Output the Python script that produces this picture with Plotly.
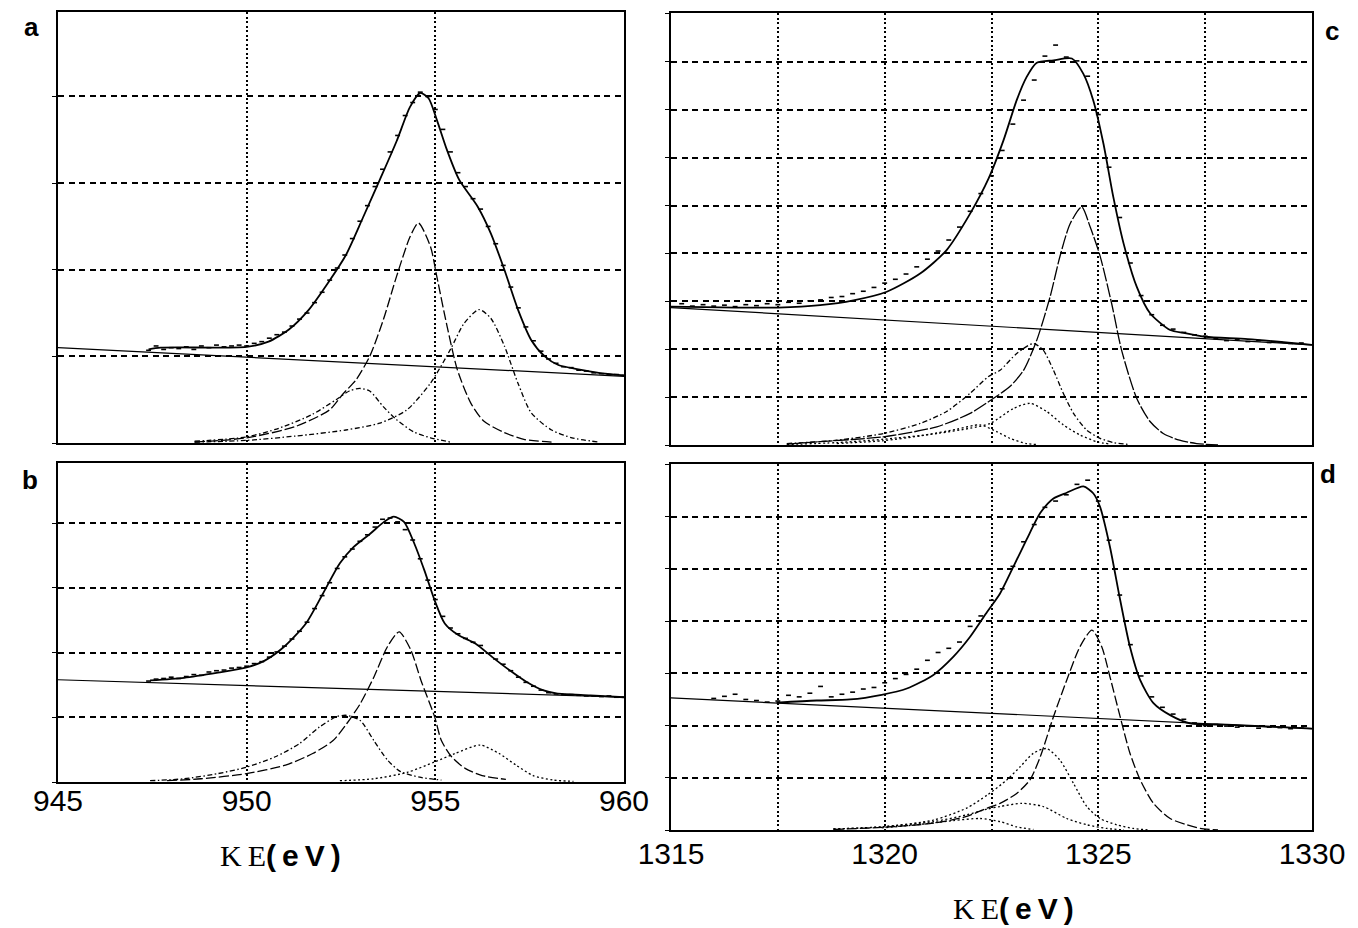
import plotly.graph_objects as go

# ================= panel a : 945-960 eV =================
A_DATA_X = [947.4, 947.6, 947.8, 948.0, 948.2, 948.4, 948.6, 948.8, 949.0, 949.2, 949.4, 949.6,
            949.8, 950.0, 950.2, 950.4, 950.6, 950.8, 951.0, 951.2, 951.4, 951.6, 951.8, 952.0,
            952.2, 952.4, 952.6, 952.8, 953.0, 953.2, 953.4, 953.6, 953.8, 954.0, 954.2, 954.4,
            954.6, 954.8, 955.0, 955.2, 955.4, 955.6, 955.8, 956.0, 956.2, 956.4, 956.6, 956.8,
            957.0, 957.2, 957.4, 957.6, 957.8, 958.0, 958.2, 958.4, 958.6, 958.8, 959.0, 959.2,
            959.4, 959.6, 959.8, 960.0]
A_DATA_Y = [1.07, 1.12, 1.08, 1.10, 1.09, 1.11, 1.08, 1.12, 1.10, 1.13, 1.11, 1.12,
            1.13, 1.12, 1.15, 1.17, 1.21, 1.25, 1.28, 1.35, 1.43, 1.50, 1.62, 1.74,
            1.88, 2.02, 2.17, 2.36, 2.56, 2.74, 2.96, 3.16, 3.36, 3.55, 3.78, 3.93,
            4.05, 4.00, 3.85, 3.62, 3.36, 3.12, 2.96, 2.82, 2.70, 2.50, 2.30, 2.05,
            1.80, 1.56, 1.34, 1.18, 1.06, 0.97, 0.92, 0.88, 0.87, 0.84, 0.83, 0.81,
            0.80, 0.79, 0.79, 0.78]
A_FIT_X = [947.4, 947.72, 950.0, 950.58, 951.12, 951.65, 952.19, 952.63, 953.08, 953.53, 953.97,
           954.33, 954.60, 954.82, 955.04, 955.31, 955.63, 956.12, 956.47, 956.83, 957.19,
           957.54, 957.90, 958.26, 958.79, 959.33, 960.0]
A_FIT_Y = [1.08, 1.10, 1.11, 1.17, 1.31, 1.54, 1.87, 2.17, 2.60, 3.04, 3.48,
           3.88, 4.04, 3.98, 3.73, 3.38, 3.04, 2.73, 2.42, 2.00, 1.54,
           1.19, 1.00, 0.90, 0.85, 0.81, 0.78]
A_BASE_X = [945.0, 960.0]
A_BASE_Y = [1.10, 0.77]
A_P1_X = [948.62, 950.0, 951.29, 952.19, 952.54, 952.90, 953.26, 953.62, 953.97, 954.33, 954.55,
          954.87, 955.04, 955.31, 955.58, 955.94, 956.29, 956.83, 957.37, 958.08]
A_P1_Y = [0.01, 0.06, 0.19, 0.38, 0.56, 0.73, 1.00, 1.42, 1.92, 2.38, 2.54,
          2.27, 1.92, 1.35, 0.85, 0.46, 0.25, 0.12, 0.04, 0.01]
A_P2_X = [948.62, 950.0, 950.85, 951.74, 952.37, 952.72, 952.99, 953.26, 953.62, 953.97, 954.42,
          954.87, 955.40]
A_P2_Y = [0.02, 0.07, 0.17, 0.33, 0.50, 0.60, 0.63, 0.60, 0.42, 0.27, 0.13, 0.06, 0.01]
A_P3_X = [948.62, 950.0, 951.29, 952.63, 953.53, 954.24, 954.87, 955.40, 955.76, 956.16, 956.47,
          956.83, 957.19, 957.54, 958.08, 958.62, 959.33]
A_P3_Y = [0.01, 0.03, 0.08, 0.15, 0.23, 0.38, 0.69, 1.08, 1.38, 1.54, 1.44,
          1.12, 0.69, 0.35, 0.15, 0.06, 0.01]

# ================= panel b : 945-960 eV =================
B_DATA_X = A_DATA_X
B_DATA_Y = [1.56, 1.59, 1.60, 1.62, 1.60, 1.63, 1.66, 1.65, 1.70, 1.72, 1.73, 1.76,
            1.77, 1.79, 1.83, 1.86, 1.93, 2.01, 2.10, 2.21, 2.33, 2.47, 2.68, 2.88,
            3.08, 3.30, 3.48, 3.60, 3.72, 3.82, 3.94, 4.06, 4.08, 4.02, 3.90, 3.74,
            3.45, 3.12, 2.82, 2.56, 2.38, 2.29, 2.22, 2.16, 2.11, 1.99, 1.90, 1.82,
            1.72, 1.62, 1.54, 1.48, 1.42, 1.38, 1.36, 1.35, 1.35, 1.34, 1.33, 1.33,
            1.32, 1.33, 1.31, 1.31]
B_FIT_X = [947.44, 948.34, 949.24, 950.0, 950.49, 951.03, 951.57, 952.02, 952.47, 952.83, 953.28,
           953.64, 953.90, 954.17, 954.44, 954.71, 954.98, 955.25, 955.61, 956.06, 956.51,
           956.96, 957.41, 957.85, 958.21, 959.11, 960.0]
B_FIT_Y = [1.57, 1.61, 1.69, 1.77, 1.88, 2.11, 2.45, 2.91, 3.38, 3.63, 3.84,
           4.02, 4.10, 4.02, 3.69, 3.27, 2.81, 2.45, 2.27, 2.14, 1.93,
           1.73, 1.55, 1.42, 1.37, 1.34, 1.31]
B_BASE_X = [945.0, 960.0]
B_BASE_Y = [1.58, 1.31]
B_P1_X = [947.89, 948.79, 950.0, 951.03, 951.75, 952.29, 952.65, 953.01, 953.37, 953.73, 954.04,
          954.35, 954.62, 954.98, 955.16, 955.43, 955.79, 956.24, 956.87]
B_P1_Y = [0.02, 0.05, 0.13, 0.26, 0.44, 0.64, 0.90, 1.21, 1.62, 2.09, 2.32,
          2.04, 1.57, 1.01, 0.64, 0.39, 0.21, 0.10, 0.04]
B_P2_X = [947.44, 948.34, 949.24, 950.0, 950.76, 951.39, 951.93, 952.38, 952.65, 953.01, 953.37,
          953.73, 954.08, 954.62, 955.16]
B_P2_Y = [0.02, 0.05, 0.13, 0.23, 0.39, 0.59, 0.85, 1.01, 1.03, 0.95, 0.64,
          0.34, 0.16, 0.07, 0.03]
B_P3_X = [952.47, 953.37, 954.26, 954.98, 955.52, 956.19, 956.69, 957.14, 957.59, 958.12, 958.66]
B_P3_Y = [0.02, 0.05, 0.15, 0.31, 0.44, 0.57, 0.44, 0.26, 0.10, 0.03, 0.01]

# ================= panel c : 1315-1330 eV =================
C_DATA_X = [1315.25, 1315.5, 1315.75, 1316.0, 1316.25, 1316.5, 1316.75, 1317.0, 1317.25, 1317.5,
            1317.75, 1318.0, 1318.25, 1318.5, 1318.75, 1319.0, 1319.25, 1319.5, 1319.75, 1320.0,
            1320.25, 1320.5, 1320.75, 1321.0, 1321.25, 1321.5, 1321.75, 1322.0, 1322.25, 1322.5,
            1322.75, 1323.0, 1323.25, 1323.5, 1323.75, 1324.0, 1324.25, 1324.5, 1324.75, 1325.0,
            1325.25, 1325.5, 1325.75, 1326.0, 1326.25, 1326.5, 1326.75, 1327.0, 1327.25, 1327.5,
            1327.75, 1328.0, 1328.25, 1328.5, 1328.75, 1329.0, 1329.25, 1329.5, 1329.75]
C_DATA_Y = [2.95, 2.90, 2.93, 2.90, 2.92, 2.89, 2.93, 2.91, 2.95, 2.93,
            2.98, 2.96, 3.01, 3.03, 3.08, 3.10, 3.16, 3.21, 3.29, 3.38,
            3.46, 3.57, 3.72, 3.88, 4.05, 4.28, 4.55, 4.88, 5.25, 5.62,
            6.15, 6.70, 7.20, 7.62, 8.12, 8.35, 8.10, 8.02, 7.70, 6.90,
            5.80, 4.75, 3.80, 3.12, 2.72, 2.50, 2.42, 2.35, 2.30, 2.27,
            2.22, 2.18, 2.21, 2.16, 2.18, 2.14, 2.15, 2.12, 2.13]
C_FIT_X = [1315.0, 1316.54, 1317.51, 1318.49, 1319.27, 1320.05, 1320.83, 1321.45, 1322.0, 1322.43,
           1322.78, 1323.09, 1323.32, 1323.56, 1323.95, 1324.38, 1324.65, 1324.88, 1325.12,
           1325.35, 1325.59, 1325.90, 1326.21, 1326.68, 1327.0, 1327.5, 1328.5, 1330.0]
C_FIT_Y = [2.89, 2.87, 2.87, 2.92, 3.02, 3.20, 3.58, 4.07, 4.83, 5.56,
           6.36, 7.20, 7.68, 7.98, 8.03, 8.07, 7.75, 7.20, 6.29,
           5.18, 4.21, 3.30, 2.75, 2.40, 2.34, 2.26, 2.21, 2.09]
C_BASE_X = [1315.0, 1330.0]
C_BASE_Y = [2.87, 2.09]
C_P1_X = [1317.71, 1318.49, 1319.97, 1321.22, 1322.0, 1322.54, 1322.93, 1323.25, 1323.56, 1323.87,
          1324.10, 1324.34, 1324.61, 1324.81, 1325.04, 1325.31, 1325.55, 1325.90, 1326.21, 1326.52,
          1326.9, 1327.3, 1327.8]
C_P1_Y = [0.02, 0.07, 0.17, 0.38, 0.66, 0.97, 1.22, 1.56, 2.19, 3.09,
          3.93, 4.62, 4.97, 4.55, 3.95, 2.96, 1.96, 0.97, 0.49, 0.24,
          0.10, 0.03, 0.0]
C_P2_X = [1317.71, 1318.88, 1319.97, 1320.83, 1321.45, 1322.0, 1322.43, 1322.70, 1323.09, 1323.48,
          1323.71, 1323.95, 1324.18, 1324.42, 1324.73, 1325.04, 1325.35, 1325.74]
C_P2_Y = [0.03, 0.10, 0.24, 0.45, 0.70, 1.08, 1.43, 1.56, 1.91, 2.12,
          1.98, 1.56, 1.08, 0.66, 0.31, 0.14, 0.05, 0.01]
C_P3_X = [1317.71, 1318.88, 1319.97, 1321.22, 1322.0, 1322.47, 1323.01, 1323.40, 1323.79, 1324.18,
          1324.57, 1324.96, 1325.27]
C_P3_Y = [0.01, 0.05, 0.12, 0.24, 0.35, 0.45, 0.76, 0.87, 0.70, 0.42, 0.21, 0.07, 0.02]
C_P4_X = [1318.88, 1319.97, 1320.83, 1321.69, 1322.23, 1322.62, 1322.93, 1323.32, 1323.56]
C_P4_Y = [0.03, 0.09, 0.19, 0.33, 0.42, 0.28, 0.14, 0.03, 0.01]

# ================= panel d : 1315-1330 eV =================
D_DATA_X = [1316.0, 1316.25, 1316.5, 1316.75, 1317.0, 1317.25, 1317.5, 1317.75, 1318.0, 1318.25,
            1318.5, 1318.75, 1319.0, 1319.25, 1319.5, 1319.75, 1320.0, 1320.25, 1320.5, 1320.75,
            1321.0, 1321.25, 1321.5, 1321.75, 1322.0, 1322.25, 1322.5, 1322.75, 1323.0, 1323.25,
            1323.5, 1323.75, 1324.0, 1324.25, 1324.5, 1324.75, 1325.0, 1325.25, 1325.5, 1325.75,
            1326.0, 1326.25, 1326.5, 1326.75, 1327.0, 1327.25, 1327.5, 1327.75, 1328.0, 1328.25,
            1328.5, 1328.75, 1329.0, 1329.25, 1329.5, 1329.75]
D_DATA_Y = [2.52, 2.56, 2.60, 2.50, 2.48, 2.45, 2.47, 2.58, 2.55, 2.62,
            2.75, 2.55, 2.60, 2.64, 2.70, 2.73, 2.82, 2.90, 2.98, 3.08,
            3.25, 3.40, 3.48, 3.60, 3.90, 4.10, 4.40, 4.62, 5.05, 5.52,
            5.85, 6.18, 6.30, 6.42, 6.62, 6.70, 6.30, 5.55, 4.50, 3.55,
            2.95, 2.55, 2.35, 2.22, 2.12, 2.05, 2.00, 2.02, 1.99, 1.97,
            1.99, 1.95, 1.97, 1.96, 1.94, 1.95]
D_FIT_X = [1317.47, 1318.41, 1319.19, 1319.93, 1320.52, 1321.14, 1321.61, 1322.00, 1322.40, 1322.70,
           1323.01, 1323.32, 1323.64, 1323.95, 1324.26, 1324.65, 1324.88, 1325.04, 1325.27, 1325.51,
           1325.74, 1325.98, 1326.29, 1326.68, 1327.15, 1328.0, 1330.0]
D_FIT_Y = [2.44, 2.48, 2.50, 2.59, 2.71, 2.97, 3.32, 3.70, 4.18, 4.53,
           5.04, 5.56, 6.07, 6.35, 6.46, 6.58, 6.45, 6.19, 5.43, 4.41,
           3.51, 2.87, 2.43, 2.20, 2.04, 2.02, 1.94]
D_BASE_X = [1315.0, 1330.0]
D_BASE_Y = [2.53, 1.94]
D_P1_X = [1318.80, 1319.93, 1321.14, 1321.92, 1322.40, 1322.70, 1323.09, 1323.40, 1323.64, 1323.95,
          1324.26, 1324.57, 1324.85, 1325.08, 1325.27, 1325.51, 1325.74, 1325.98, 1326.29, 1326.68,
          1327.07, 1327.38, 1327.8]
D_P1_Y = [0.01, 0.05, 0.13, 0.26, 0.42, 0.51, 0.70, 0.96, 1.40, 2.17,
          2.87, 3.51, 3.83, 3.51, 2.94, 2.17, 1.47, 0.96, 0.51, 0.22,
          0.10, 0.03, 0.0]
D_P2_X = [1318.80, 1319.93, 1321.14, 1321.92, 1322.40, 1322.86, 1323.17, 1323.48, 1323.79, 1324.10,
          1324.42, 1324.73, 1325.04, 1325.43, 1325.82, 1326.2]
D_P2_Y = [0.02, 0.06, 0.19, 0.42, 0.67, 0.96, 1.21, 1.47, 1.56, 1.34,
          0.89, 0.45, 0.22, 0.10, 0.03, 0.0]
D_P3_X = [1318.80, 1319.93, 1321.14, 1321.92, 1322.40, 1322.70, 1323.21, 1323.71, 1324.26, 1324.73,
          1325.20, 1325.6]
D_P3_Y = [0.02, 0.06, 0.16, 0.29, 0.40, 0.45, 0.51, 0.45, 0.22, 0.10, 0.03, 0.0]
D_P4_X = [1319.93, 1320.75, 1321.61, 1322.23, 1322.70, 1323.09, 1323.48]
D_P4_Y = [0.04, 0.10, 0.18, 0.22, 0.16, 0.06, 0.01]

# ---------------- axis ticks / labels ----------------
LEFT_TICKS = [945, 950, 955, 960]
LEFT_TICK_TEXT = ["945", "950", "955", "960"]
RIGHT_TICKS = [1315, 1317.5, 1320, 1322.5, 1325, 1327.5, 1330]
RIGHT_TICK_TEXT = ["1315", "", "1320", "", "1325", "", "1330"]
X_TITLE = "KE"
X_UNIT = "(eV)"
PANEL_LETTERS = ["a", "b", "c", "d"]

W, H = 1358, 928
DASH_MAIN = "10px,3px"
DASH_DD = "5px,2.5px,1.5px,2.5px"
DASH_DOT = "2px,2.5px"

fig = go.Figure()


def add_panel(n, dx, dy, fx, fy, bx, by, comps):
    xa = "x" if n == 1 else f"x{n}"
    ya = "y" if n == 1 else f"y{n}"
    fig.add_trace(go.Scatter(x=bx, y=by, mode="lines", xaxis=xa, yaxis=ya,
                             line=dict(color="black", width=1.2), hoverinfo="skip"))
    for cx, cy, dash in comps:
        fig.add_trace(go.Scatter(x=cx, y=cy, mode="lines", xaxis=xa, yaxis=ya,
                                 line=dict(color="black", width=1.3, dash=dash,
                                           shape="spline", smoothing=0.7)))
    fig.add_trace(go.Scatter(x=fx, y=fy, mode="lines", xaxis=xa, yaxis=ya,
                             line=dict(color="black", width=1.8, shape="spline", smoothing=0.7)))
    fig.add_trace(go.Scatter(x=dx, y=dy, mode="markers", xaxis=xa, yaxis=ya,
                             marker=dict(symbol="line-ew", size=3.5,
                                         line=dict(color="black", width=1.6))))


add_panel(1, A_DATA_X, A_DATA_Y, A_FIT_X, A_FIT_Y, A_BASE_X, A_BASE_Y,
          [(A_P2_X, A_P2_Y, DASH_DD), (A_P3_X, A_P3_Y, DASH_DD), (A_P1_X, A_P1_Y, DASH_MAIN)])
add_panel(2, B_DATA_X, B_DATA_Y, B_FIT_X, B_FIT_Y, B_BASE_X, B_BASE_Y,
          [(B_P2_X, B_P2_Y, DASH_DD), (B_P3_X, B_P3_Y, DASH_DOT), (B_P1_X, B_P1_Y, DASH_MAIN)])
add_panel(3, C_DATA_X, C_DATA_Y, C_FIT_X, C_FIT_Y, C_BASE_X, C_BASE_Y,
          [(C_P4_X, C_P4_Y, DASH_DOT), (C_P3_X, C_P3_Y, DASH_DOT), (C_P2_X, C_P2_Y, DASH_DD),
           (C_P1_X, C_P1_Y, "14px,2px")])
add_panel(4, D_DATA_X, D_DATA_Y, D_FIT_X, D_FIT_Y, D_BASE_X, D_BASE_Y,
          [(D_P4_X, D_P4_Y, DASH_DOT), (D_P3_X, D_P3_Y, DASH_DOT), (D_P2_X, D_P2_Y, DASH_DOT),
           (D_P1_X, D_P1_Y, DASH_MAIN)])


def px_x(a, b):
    return [a / W, b / W]


def px_y(top, bottom):
    return [1 - bottom / H, 1 - top / H]


TICK_FONT = dict(family="Liberation Sans, Arial, sans-serif", size=30, color="black")
common_x = dict(showline=True, mirror=True, linecolor="black", linewidth=2, zeroline=False,
                showgrid=True, gridcolor="black", gridwidth=1.5, griddash="2px,2.5px",
                tickmode="array", ticks="", tickfont=TICK_FONT, automargin=False)
common_y = dict(showline=True, mirror=True, linecolor="black", linewidth=2, zeroline=False,
                showgrid=True, gridcolor="black", gridwidth=1.6, griddash="6px,4.5px",
                dtick=1, tick0=0, showticklabels=False, ticks="outside", ticklen=4,
                tickcolor="black", tickwidth=1.2, automargin=False)

fig.update_layout(
    width=W, height=H, margin=dict(l=0, r=0, t=0, b=0, autoexpand=False),
    paper_bgcolor="white", plot_bgcolor="white", showlegend=False,
    xaxis=dict(common_x, domain=px_x(58, 624), range=[945, 960], anchor="y",
               tickvals=LEFT_TICKS, showticklabels=False),
    yaxis=dict(common_y, domain=px_y(12, 443), range=[0, 4.975], anchor="x"),
    xaxis2=dict(common_x, domain=px_x(58, 624), range=[945, 960], anchor="y2",
                tickvals=LEFT_TICKS, ticktext=LEFT_TICK_TEXT, showticklabels=True,
                ticklabelstandoff=-9),
    yaxis2=dict(common_y, domain=px_y(463, 782), range=[0, 4.93], anchor="x2"),
    xaxis3=dict(common_x, domain=px_x(671, 1312), range=[1315, 1330], anchor="y3",
                tickvals=RIGHT_TICKS, showticklabels=False),
    yaxis3=dict(common_y, domain=px_y(13, 445), range=[0, 9.02], anchor="x3"),
    xaxis4=dict(common_x, domain=px_x(671, 1312), range=[1315, 1330], anchor="y4",
                tickvals=RIGHT_TICKS, ticktext=RIGHT_TICK_TEXT, showticklabels=True,
                ticklabelstandoff=-4),
    yaxis4=dict(common_y, domain=px_y(464, 830), range=[0, 7.01], anchor="x4"),
)

title_text = (f'<span style="font-family:Liberation Serif">{X_TITLE[0]}\u2009{X_TITLE[1]}</span>'
              f'<span style="font-family:Liberation Sans"><b>{"&#8201;".join(X_UNIT)}</b></span>')
for cx, cy in [(280, 855), (1013, 908)]:
    fig.add_annotation(x=cx / W, y=1 - cy / H, xref="paper", yref="paper", text=title_text,
                       showarrow=False, font=dict(size=30, color="black"),
                       xanchor="center", yanchor="middle")

for letter, (lx, ly) in zip(PANEL_LETTERS, [(31, 27), (30, 480), (1332, 31), (1328, 474)]):
    fig.add_annotation(x=lx / W, y=1 - ly / H, xref="paper", yref="paper",
                       text=f"<b>{letter}</b>", showarrow=False,
                       font=dict(family="Liberation Sans, Arial, sans-serif", size=26, color="black"),
                       xanchor="center", yanchor="middle")

fig.write_html("out.html")
